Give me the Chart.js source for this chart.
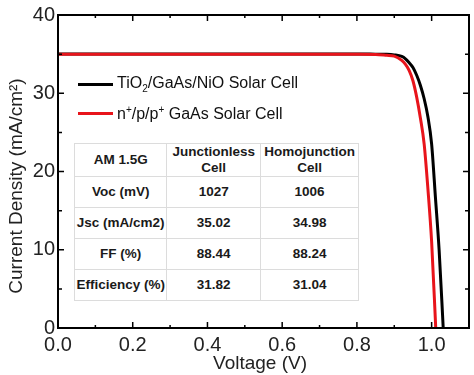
<!DOCTYPE html>
<html>
<head>
<meta charset="utf-8">
<script src="https://cdn.jsdelivr.net/npm/chart.js@4"></script>
<style>
  body { margin: 0; background: #fff; font-family: "Liberation Sans", Arial, sans-serif; }
  #wrap { position: relative; width: 474px; height: 375px; }
  #legend { position: absolute; left: 78px; top: 70px; font-size: 16px; color: #111; }
  #legend .row { height: 29px; display: flex; align-items: center; }
  #legend .ln { display: inline-block; width: 35px; height: 3px; margin-right: 4px; }
  #legend sub, #legend sup { font-size: 10px; }
  #stats { position: absolute; left: 74px; top: 143px; width: 285px; height: 157px;
           border-collapse: collapse; background: #fff; border: 1px solid #a8a8a8;
           font-size: 13.5px; font-weight: bold; color: #1a1a1a; }
  #stats td { border: 1px solid #dcdcdc; text-align: center; padding: 0; line-height: 16px; }
</style>
</head>
<body>
<div id="wrap">
  <canvas id="ivChart" width="474" height="375"></canvas>
  <div id="legend">
    <div class="row"><span class="ln" style="background:#000"></span><span>TiO<sub>2</sub>/GaAs/NiO Solar Cell</span></div>
    <div class="row"><span class="ln" style="background:#e8141b"></span><span>n<sup>+</sup>/p/p<sup>+</sup> GaAs Solar Cell</span></div>
  </div>
  <table id="stats"></table>
</div>
<script>
// J-V curves
const tioVoltage = [0, 0.2, 0.4, 0.6, 0.8, 0.85, 0.88, 0.9, 0.92, 0.93, 0.94, 0.95, 0.96, 0.97, 0.98, 0.99, 1.0, 1.01, 1.02, 1.031];
const tioCurrent = [35.02, 35.02, 35.02, 35.02, 35.02, 35.0, 34.98, 34.9, 34.7, 34.4, 33.9, 33.3, 32.3, 31.0, 29.3, 27.0, 23.5, 16.8, 10.0, 0];
const gaasVoltage = [0, 0.2, 0.4, 0.6, 0.8, 0.85, 0.88, 0.9, 0.92, 0.93, 0.94, 0.95, 0.96, 0.97, 0.98, 0.99, 1.0, 1.011];
const gaasCurrent = [34.98, 34.98, 34.98, 34.98, 34.97, 34.95, 34.85, 34.75, 34.2, 33.7, 32.9, 31.6, 29.5, 26.8, 23.5, 17.8, 11.0, 0];

const xTicks = ['0.0', '0.2', '0.4', '0.6', '0.8', '1.0'];
const yTicks = ['0', '10', '20', '30', '40'];

// table in the plot
const tableHead = ['AM 1.5G', 'Junctionless<br>Cell', 'Homojunction<br>Cell'];
const tableRows = ['Voc (mV)', 'Jsc (mA/cm2)', 'FF (%)', 'Efficiency (%)'];
const junctionless = ['1027', '35.02', '88.44', '31.82'];
const homojunction = ['1006', '34.98', '88.24', '31.04'];

var html = '<colgroup><col style="width:93px"><col style="width:94px"><col style="width:98px"></colgroup>';
html += '<tr style="height:32px">' + tableHead.map(h => '<td>' + h + '</td>').join('') + '</tr>';
for (var i = 0; i < tableRows.length; i++) {
    html += '<tr style="height:31px"><td>' + tableRows[i] + '</td><td>' + junctionless[i] + '</td><td>' + homojunction[i] + '</td></tr>';
}
document.getElementById('stats').innerHTML = html;

function toPoints(xs, ys) {
    return xs.map((x, i) => ({ x: x, y: ys[i] }));
}

const FONT = '"Liberation Sans", Arial, sans-serif';

// frame, inward ticks and axis titles
const framePlugin = {
    id: 'frame',
    afterDraw(chart) {
        const ctx = chart.ctx;
        const a = chart.chartArea;
        const xs = chart.scales.x, ys = chart.scales.y;
        ctx.save();
        ctx.strokeStyle = '#000';
        ctx.lineWidth = 1.5;
        xs.ticks.forEach(t => {
            const px = xs.getPixelForValue(t.value);
            const len = Math.round(t.value * 10) % 2 === 0 ? 6 : 3;
            ctx.beginPath();
            ctx.moveTo(px, a.bottom); ctx.lineTo(px, a.bottom - len);
            ctx.moveTo(px, a.top); ctx.lineTo(px, a.top + len);
            ctx.stroke();
        });
        ys.ticks.forEach(t => {
            const py = ys.getPixelForValue(t.value);
            const len = Math.round(t.value) % 10 === 0 ? 6 : 4;
            ctx.beginPath();
            ctx.moveTo(a.left, py); ctx.lineTo(a.left + len, py);
            ctx.moveTo(a.right, py); ctx.lineTo(a.right - len, py);
            ctx.stroke();
        });
        ctx.lineWidth = 2;
        ctx.strokeRect(a.left, a.top, a.right - a.left, a.bottom - a.top);

        ctx.fillStyle = '#222';
        ctx.font = '19px ' + FONT;
        ctx.textAlign = 'center';
        ctx.textBaseline = 'alphabetic';
        ctx.fillText('Voltage (V)', 260, 369);
        ctx.translate(21.5, 186);
        ctx.rotate(-Math.PI / 2);
        ctx.fillText('Current Density (mA/cm\u00B2)', 0, 0);
        ctx.restore();
    }
};

const ctx = document.getElementById('ivChart').getContext('2d');
const ivChart = new Chart(ctx, {
    type: 'line',
    data: {
        datasets: [{
            label: 'n+/p/p+ GaAs Solar Cell',
            data: toPoints(gaasVoltage, gaasCurrent),
            borderColor: '#e8141b',
            borderWidth: 3,
            pointRadius: 0,
            cubicInterpolationMode: 'monotone',
            order: 0
        }, {
            label: 'TiO2/GaAs/NiO Solar Cell',
            data: toPoints(tioVoltage, tioCurrent),
            borderColor: '#000',
            borderWidth: 3,
            pointRadius: 0,
            cubicInterpolationMode: 'monotone',
            order: 1
        }]
    },
    options: {
        responsive: false,
        animation: false,
        layout: { padding: { top: 9, right: 4, left: 0, bottom: 0 } },
        plugins: { legend: { display: false }, tooltip: { enabled: false } },
        scales: {
            x: {
                type: 'linear',
                min: 0, max: 1.1,
                grid: { display: false, drawTicks: false },
                border: { display: false },
                afterFit: s => { s.height = 47; },
                ticks: {
                    stepSize: 0.1,
                    padding: 5,
                    color: '#222',
                    font: { family: FONT, size: 20 },
                    maxRotation: 0,
                    autoSkip: false,
                    callback: v => {
                        const k = Math.round(v * 10);
                        return k % 2 === 0 ? xTicks[k / 2] : '';
                    }
                }
            },
            y: {
                min: 0, max: 40,
                grid: { display: false, drawTicks: false },
                border: { display: false },
                afterFit: s => { s.width = 58; },
                ticks: {
                    stepSize: 5,
                    padding: 3,
                    color: '#222',
                    font: { family: FONT, size: 20 },
                    autoSkip: false,
                    callback: v => (Math.round(v) % 10 === 0 ? yTicks[Math.round(v) / 10] : '')
                }
            }
        }
    },
    plugins: [framePlugin]
});
</script>
</body>
</html>
